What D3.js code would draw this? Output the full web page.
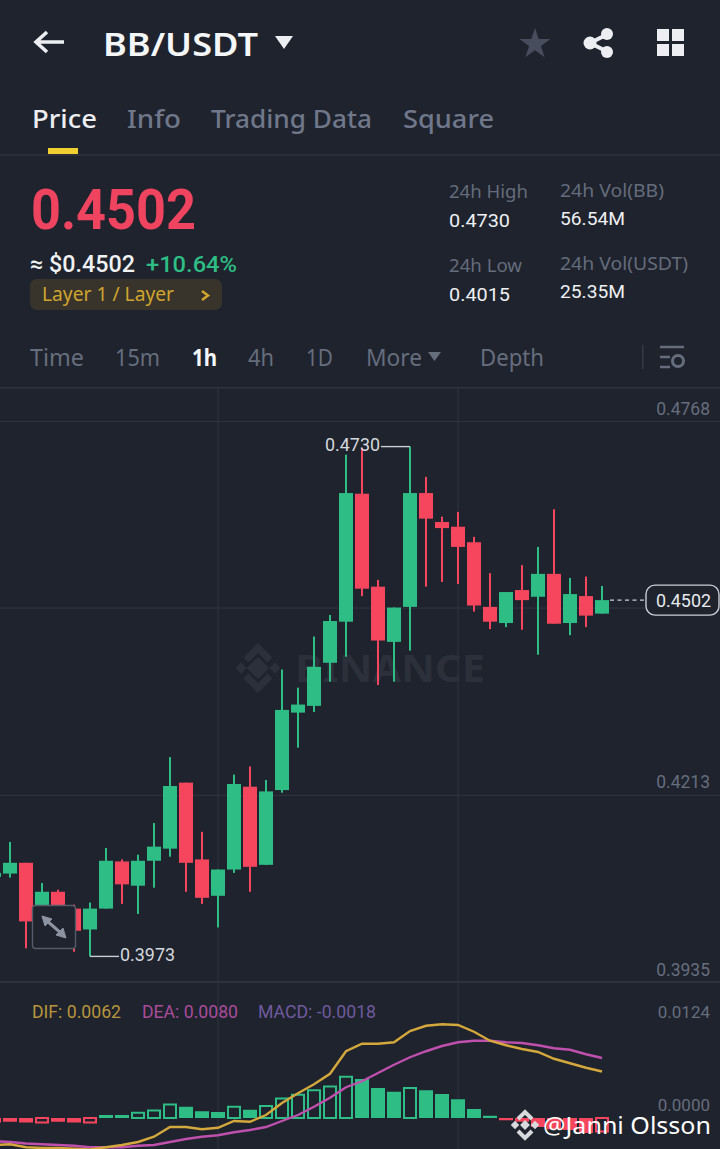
<!DOCTYPE html>
<html>
<head>
<meta charset="utf-8">
<script src="https://cdn.jsdelivr.net/npm/d3@7"></script>
<style>
html, body { margin: 0; padding: 0; background: #1e232d; overflow: hidden; }
svg { display: block; }
text { font-family: "Noto Sans", sans-serif; }
.num { font-family: Roboto, sans-serif; }
</style>
</head>
<body>
<svg width="720" height="1149"></svg>
<script>
const opens  = [.4091,.4096,.4112,.4045,.4069,.4044,.4013,.4044,.4114,.4078,.4115,.4133,.4231,.4117,.4063,.4102,.4225,.4109,.4220,.4335,.4345,.4409,.4470,.4660,.4522,.4440,.4492,.4661,.4618,.4611,.4588,.4492,.4468,.4517,.4507,.4541,.4468,.4508,.4482];
const highs  = [.4098,.4143,.4112,.4082,.4072,.4050,.4053,.4134,.4117,.4124,.4171,.4269,.4231,.4158,.4102,.4243,.4255,.4235,.4399,.4372,.4448,.4480,.4718,.4728,.4532,.4491,.4730,.4685,.4626,.4633,.4596,.4542,.4514,.4554,.4581,.4637,.4535,.4537,.4523];
const lows   = [.4090,.4090,.3985,.4045,.4039,.3980,.3973,.4044,.4051,.4036,.4075,.4121,.4069,.4051,.4016,.4097,.4069,.4109,.4216,.4283,.4336,.4381,.4418,.4508,.4376,.4381,.4427,.4522,.4529,.4526,.4485,.4459,.4462,.4458,.4421,.4467,.4450,.4462,.4482];
const closes = [.4097,.4112,.4025,.4069,.4044,.4011,.4044,.4115,.4080,.4115,.4136,.4226,.4112,.4060,.4102,.4229,.4106,.4218,.4339,.4347,.4403,.4471,.4661,.4519,.4442,.4491,.4661,.4623,.4609,.4581,.4494,.4470,.4514,.4502,.4541,.4467,.4511,.4479,.4502];
const priceTicks = [0.4768, 0.4213, 0.3935];
const priceGrid = [0.4768, 0.4491, 0.4213, 0.3935];
const macdTicks = [0.0124, 0];

const hist = [-.0006,-.0005,-.0006,-.0006,-.0005,-.0006,-.0006,.0004,.0004,.0007,.0010,.0018,.0015,.0009,.0008,.0015,.0011,.0016,.0026,.0031,.0037,.0042,.0055,.0052,.0040,.0035,.0040,.0037,.0032,.0025,.0012,.0003,-.0003,-.0005,-.0012,-.0015,-.0016,-.0020,-.0018];
const hollow = [0,0,0,1,0,0,1,0,0,1,1,1,0,0,0,1,0,1,1,1,1,1,1,0,0,0,1,0,0,0,0,0,0,0,0,0,0,0,1];
const dif = [-.0036,-.0035,-.0039,-.0040,-.0040,-.0041,-.0042,-.0039,-.0036,-.0032,-.0025,-.0012,-.0012,-.0015,-.0013,-.0004,-.0005,.0004,.0020,.0033,.0045,.0059,.0089,.0099,.0099,.0101,.0116,.0123,.0125,.0124,.0115,.0103,.0097,.0092,.0088,.0079,.0073,.0067,.0062];
const dea = [-.0031,-.0032,-.0034,-.0035,-.0036,-.0037,-.0039,-.0039,-.0039,-.0037,-.0036,-.0032,-.0028,-.0025,-.0023,-.0019,-.0016,-.0012,-.0004,.0004,.0015,.0027,.0041,.0049,.0060,.0071,.0081,.0089,.0096,.0101,.0103,.0103,.0101,.0100,.0097,.0093,.0091,.0085,.0080];

const tabs = ["Price", "Info", "Trading Data", "Square"];
const intervals = ["Time", "15m", "1h", "4h", "1D", "More", "Depth"];

const UP = '#2ebd85', DOWN = '#f6465d';
const svg = d3.select('svg');

// scales
const x = d3.scaleLinear().domain([0, 38]).range([-6, 602]);
const y = d3.scaleLinear().domain([0.3935, 0.4768]).range([982, 421]);
const ym = d3.scaleLinear().domain([0, 0.0124]).range([1118, 1025]);
const idx = d3.range(hist.length);

// helper for the plain app text
function label(t, px, py, size, fill, weight, cls, len) {
  const el = svg.append('text').attr('x', px).attr('y', py).attr('font-size', size)
    .attr('fill', fill).attr('font-weight', weight || 400).text(t);
  if (cls) el.attr('class', cls);
  if (len) el.attr('textLength', len).attr('lengthAdjust', 'spacingAndGlyphs');
  return el;
}

// header
svg.append('path').attr('d', 'M36 42H64M47 32L36 42L47 52').attr('fill', 'none')
  .attr('stroke', '#eceef2').attr('stroke-width', 3.6);
label('BB/USDT', 103, 56, 32, '#f5f6f8', 600, null, 155);
svg.append('path').attr('d', 'M275 36H293L284 49Z').attr('fill', '#eceef2');
svg.append('path').attr('d', d3.symbol(d3.symbolStar, 300)()).attr('transform', 'translate(535,44)').attr('fill', '#474d5c');
svg.append('path').attr('d', 'M608 34L590 43L608 52').attr('fill', 'none').attr('stroke', '#eceef2').attr('stroke-width', 4);
svg.selectAll('.share').data([[607, 34, 6], [590, 43, 6.5], [607, 52, 6]]).join('circle')
  .attr('class', 'share').attr('cx', d => d[0]).attr('cy', d => d[1]).attr('r', d => d[2]).attr('fill', '#eceef2');
svg.selectAll('.tile').data([[657, 29], [672, 29], [657, 44], [672, 44]]).join('rect')
  .attr('class', 'tile').attr('x', d => d[0]).attr('y', d => d[1]).attr('width', 12).attr('height', 12).attr('fill', '#eceef2');

// tabs
const tabX = [32, 127, 211, 403], tabW = [65, 54, 161, 91];
tabs.forEach((t, i) => label(t, tabX[i], 128, 26, i ? '#70778a' : '#eceef2', 500, null, tabW[i]));
svg.append('rect').attr('x', 48).attr('y', 148).attr('width', 30).attr('height', 7).attr('fill', '#f0d030');
svg.append('rect').attr('x', 0).attr('y', 154).attr('width', 720).attr('height', 2).attr('fill', '#2a2f39');

// price block
label('0.4502', 31, 229, 55, '#ee4460', 700, 'num', 165);
label('≈ $0.4502', 30, 272, 23, '#f0f1f3', 500, 'num', 105);
label('+10.64%', 146, 272, 22, '#2ebd85', 500, 'num', 91);
svg.append('rect').attr('x', 30).attr('y', 279).attr('width', 192).attr('height', 31).attr('rx', 7).attr('fill', '#38342b');
label('Layer 1 / Layer', 42, 301, 19, '#d0a52f', 400, null, 132);
svg.append('path').attr('d', 'M202 291L208 295.5L202 300').attr('fill', 'none').attr('stroke', '#d0a52f').attr('stroke-width', 2.5);

// 24h stats
const statLabels = ['24h High', '24h Vol(BB)', '24h Low', '24h Vol(USDT)'];
const statValues = ['0.4730', '56.54M', '0.4015', '25.35M'];
const statX = [449, 560, 449, 560], statY = [198, 197, 272, 270], statW = [79, 104, 73, 128];
statLabels.forEach((t, i) => label(t, statX[i], statY[i], 18.5, '#656c7c', 400, null, statW[i]));
statValues.forEach((t, i) => label(t, statX[i], statY[i] + 29 - (i % 2), 18, '#eef0f3', 400, 'num', i % 2 ? 65 : 61));

// interval row
const ivX = [30, 115, 192, 248, 306, 366, 480], ivW = [54, 45, 25, 26, 27, 56, 64];
intervals.forEach((t, i) => label(t, ivX[i], 366, 23, i === 2 ? '#f5f6f8' : '#666d7d', i === 2 ? 700 : 400, null, ivW[i]));
svg.append('path').attr('d', 'M428 352H441L434.5 361Z').attr('fill', '#666d7d');
svg.append('rect').attr('x', 642).attr('y', 345).attr('width', 1.5).attr('height', 24).attr('fill', '#343a45');
svg.append('path').attr('d', 'M660 347H684M660 357H670M660 367H670').attr('stroke', '#666d7d').attr('stroke-width', 2.6).attr('fill', 'none');
svg.append('circle').attr('cx', 678).attr('cy', 361).attr('r', 5.5).attr('fill', 'none').attr('stroke', '#666d7d').attr('stroke-width', 3);

// panel frames and grid
svg.selectAll('.sep').data([387, 981]).join('rect').attr('class', 'sep')
  .attr('x', 0).attr('y', d => d).attr('width', 720).attr('height', 1.5).attr('fill', '#2d323c');
svg.selectAll('.vgrid').data([218, 458]).join('line').attr('class', 'vgrid')
  .attr('x1', d => d).attr('x2', d => d).attr('y1', 388).attr('y2', 1149).attr('stroke', '#2d323c').attr('stroke-width', 1.2);
const gridAxis = d3.axisLeft(y).tickValues(priceGrid).tickSize(-720).tickFormat('');
svg.append('g').attr('class', 'pgrid').call(gridAxis)
  .call(g => g.select('.domain').remove())
  .call(g => g.selectAll('line').attr('stroke', '#2d323c').attr('stroke-width', 1.2));

// watermark
const wm = svg.append('g').attr('fill', '#2b303a');
[[258, 668, 8], [241, 668, 4], [275, 668, 4]].forEach(d => {
  wm.append('rect').attr('x', -d[2]).attr('y', -d[2]).attr('width', 2 * d[2]).attr('height', 2 * d[2])
    .attr('transform', `translate(${d[0]},${d[1]}) rotate(45)`);
});
wm.append('path').attr('d', 'M246 660L258 648L270 660M246 676L258 688L270 676').attr('fill', 'none').attr('stroke', '#2b303a').attr('stroke-width', 7);
wm.append('text').attr('x', 295).attr('y', 682).attr('font-size', 38).attr('font-weight', 700).attr('textLength', 190).attr('lengthAdjust', 'spacingAndGlyphs').text('BINANCE');

// candles
const candle = svg.append('g').selectAll('g').data(idx).join('g')
  .attr('fill', i => closes[i] >= opens[i] ? UP : DOWN);
candle.append('rect').attr('x', i => x(i) - 1).attr('width', 2)
  .attr('y', i => y(highs[i])).attr('height', i => y(lows[i]) - y(highs[i]));
candle.append('rect').attr('x', i => x(i) - 7).attr('width', 14)
  .attr('y', i => y(Math.max(opens[i], closes[i])))
  .attr('height', i => Math.abs(y(opens[i]) - y(closes[i])));

// high and low callouts
const hiPath = d3.path();
hiPath.moveTo(381, y(0.4730)); hiPath.lineTo(x(26), y(0.4730));
svg.append('path').attr('d', hiPath.toString()).attr('fill', 'none').attr('stroke', '#c9ced6').attr('stroke-width', 1.4);
label('0.4730', 325, 451, 17.5, '#d5d8de', 400, 'num', 55);
const loPath = d3.path();
loPath.moveTo(x(6), y(0.3973)); loPath.lineTo(119, y(0.3973));
svg.append('path').attr('d', loPath.toString()).attr('fill', 'none').attr('stroke', '#c9ced6').attr('stroke-width', 1.4);
label('0.3973', 120, 961, 17.5, '#d5d8de', 400, 'num', 55);

// price axis labels sit just above their grid lines
const priceAxis = d3.axisLeft(y).tickValues(priceTicks).tickSize(0).tickPadding(0).tickFormat(d3.format('.4f'));
svg.append('g').attr('transform', 'translate(710,0)').call(priceAxis)
  .call(g => g.select('.domain').remove())
  .call(g => g.selectAll('text').attr('class', 'num').attr('fill', '#666d7d').attr('font-size', 17.5).attr('dy', -7));

// last price marker
svg.append('line').attr('x1', 610).attr('x2', 646).attr('y1', y(0.4502)).attr('y2', y(0.4502))
  .attr('stroke', '#c9ced6').attr('stroke-width', 1.4).attr('stroke-dasharray', '4 3.5');
svg.append('rect').attr('x', 646).attr('y', y(0.4502) - 15).attr('width', 73).attr('height', 30).attr('rx', 9)
  .attr('fill', '#1e232d').attr('stroke', '#c9ced6').attr('stroke-width', 1.4);
label('0.4502', 656, y(0.4502) + 7, 18, '#e8eaee', 400, 'num', 55);

// expand button
svg.append('rect').attr('x', 32.5).attr('y', 905.5).attr('width', 43).attr('height', 43).attr('rx', 3)
  .attr('fill', '#1e232d').attr('stroke', '#555b68').attr('stroke-width', 1.4);
svg.append('path').attr('d', 'M42 916L52 919L45 926ZM66 938L56 935L63 928Z').attr('fill', '#8d93a0').attr('stroke', '#8d93a0').attr('stroke-width', 1);
svg.append('path').attr('d', 'M46 920L62 934').attr('stroke', '#8d93a0').attr('stroke-width', 3);

// MACD panel
const legend = [['DIF: 0.0062', 32, 89, '#b8953c'], ['DEA: 0.0080', 142, 96, '#a94c9c'], ['MACD: -0.0018', 258, 118, '#6f5a9e']];
legend.forEach(d => label(d[0], d[1], 1018, 17.5, d[3], 400, 'num', d[2]));

svg.append('g').selectAll('rect').data(idx).join('rect')
  .attr('x', i => x(i) - 7 + (hollow[i] ? 1 : 0))
  .attr('width', i => hollow[i] ? 12 : 14)
  .attr('y', i => hist[i] > 0 ? ym(hist[i]) : ym(0))
  .attr('height', i => Math.abs(ym(hist[i]) - ym(0)))
  .attr('fill', i => hollow[i] ? 'none' : (hist[i] > 0 ? UP : DOWN))
  .attr('stroke', i => hollow[i] ? (hist[i] > 0 ? UP : DOWN) : 'none')
  .attr('stroke-width', 2);

const line = s => d3.line().x((d, i) => x(i)).y(d => ym(d))(s);
svg.append('path').attr('d', line(dea)).attr('fill', 'none').attr('stroke', '#c050ae').attr('stroke-width', 2.4);
svg.append('path').attr('d', line(dif)).attr('fill', 'none').attr('stroke', '#d4a83c').attr('stroke-width', 2.4);

const macdAxis = d3.axisLeft(ym).tickValues(macdTicks).tickSize(0).tickPadding(0).tickFormat(d3.format('.4f'));
svg.append('g').attr('transform', 'translate(710,0)').call(macdAxis)
  .call(g => g.select('.domain').remove())
  .call(g => g.selectAll('text').attr('class', 'num').attr('fill', '#666d7d').attr('font-size', 17).attr('dy', -8));

// uploader mark
const mark = svg.append('g').attr('fill', '#d8d9dc');
[[525, 1125, 3.5], [515, 1125, 3], [535, 1125, 3]].forEach(d => {
  mark.append('rect').attr('x', -d[2]).attr('y', -d[2]).attr('width', 2 * d[2]).attr('height', 2 * d[2])
    .attr('transform', `translate(${d[0]},${d[1]}) rotate(45)`);
});
mark.append('path').attr('d', 'M518 1119L525 1112L532 1119M518 1131L525 1138L532 1131').attr('fill', 'none').attr('stroke', '#d8d9dc').attr('stroke-width', 4);
label('@Janni Olsson', 543, 1134, 24, '#fdfdfd', 400, null, 168);
</script>
</body>
</html>
